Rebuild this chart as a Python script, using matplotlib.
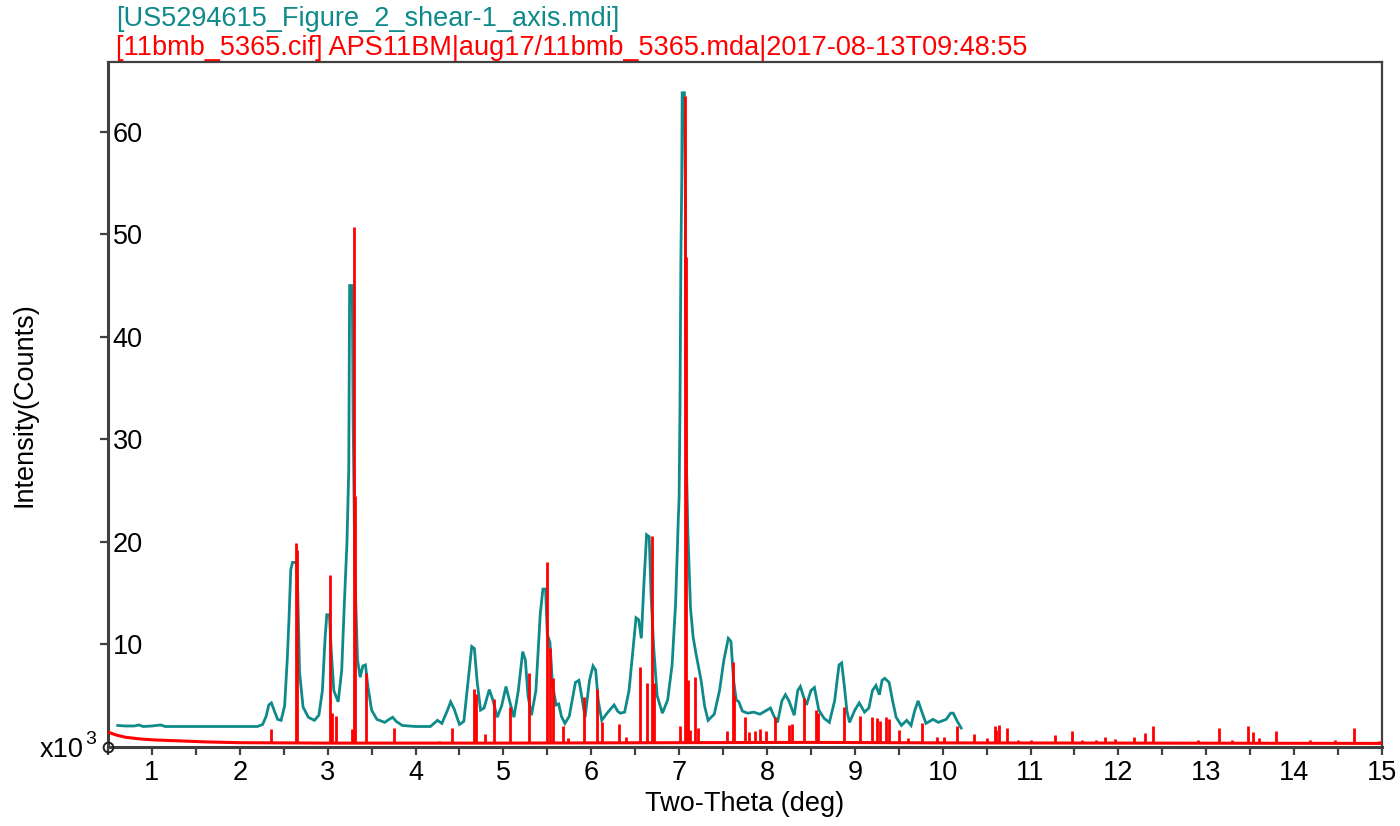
import numpy as np
import matplotlib
matplotlib.use("Agg")
import matplotlib.pyplot as plt

plt.rcParams['font.family'] = ['Liberation Sans', 'DejaVu Sans']

# ---------------- data ----------------
title1 = "[US5294615_Figure_2_shear-1_axis.mdi]"
title2 = "[11bmb_5365.cif] APS11BM|aug17/11bmb_5365.mda|2017-08-13T09:48:55"

# measured broad pattern (teal), x in deg, y in x10^3 counts
teal_x = [0.61, 0.70, 0.80, 0.85, 0.90, 1.00, 1.10, 1.15, 1.50, 2.00, 2.20, 2.26, 2.30, 2.33, 2.36,
          2.39, 2.43, 2.47, 2.51, 2.54, 2.56, 2.58, 2.60, 2.645, 2.66, 2.68, 2.72, 2.78, 2.85, 2.90,
          2.94, 2.97, 2.99, 3.02, 3.04, 3.07, 3.12, 3.16, 3.19, 3.22, 3.24, 3.25, 3.28, 3.29, 3.31,
          3.34, 3.37, 3.40, 3.43, 3.46, 3.50, 3.56, 3.65, 3.70, 3.74, 3.78, 3.85, 4.00, 4.17, 4.25,
          4.30, 4.36, 4.40, 4.44, 4.50, 4.55, 4.60, 4.64, 4.67, 4.70, 4.74, 4.78, 4.84, 4.88, 4.93,
          4.98, 5.03, 5.07, 5.12, 5.17, 5.22, 5.25, 5.28, 5.32, 5.37, 5.42, 5.45, 5.48, 5.50, 5.53,
          5.56, 5.60, 5.63, 5.66, 5.70, 5.75, 5.82, 5.86, 5.89, 5.93, 5.98, 6.02, 6.05, 6.08, 6.12,
          6.18, 6.26, 6.30, 6.33, 6.38, 6.43, 6.48, 6.51, 6.54, 6.57, 6.60, 6.63, 6.66, 6.68, 6.71,
          6.75, 6.81, 6.87, 6.92, 6.96, 6.99, 7.00, 7.01, 7.02, 7.03, 7.035, 7.06, 7.07, 7.08, 7.10,
          7.13, 7.16, 7.19, 7.25, 7.29, 7.33, 7.40, 7.46, 7.51, 7.56, 7.59, 7.62, 7.65, 7.68, 7.72,
          7.78, 7.85, 7.92, 7.98, 8.04, 8.08, 8.12, 8.17, 8.21, 8.25, 8.31, 8.35, 8.38, 8.42, 8.45,
          8.50, 8.54, 8.59, 8.65, 8.71, 8.77, 8.82, 8.85, 8.88, 8.91, 8.94, 9.00, 9.05, 9.11, 9.16,
          9.20, 9.24, 9.28, 9.31, 9.34, 9.39, 9.43, 9.47, 9.53, 9.59, 9.64, 9.68, 9.72, 9.76, 9.81,
          9.89, 9.95, 10.04, 10.09, 10.12, 10.16, 10.21]
teal_y = [2.10, 2.05, 2.05, 2.15, 2.00, 2.05, 2.15, 2.00, 2.00, 2.00, 2.00, 2.20, 3.00, 4.10, 4.30,
          3.60, 2.70, 2.60, 4.00, 8.50, 12.5, 17.3, 18.0, 18.0, 15.0, 7.30, 3.90, 2.90, 2.60, 3.10,
          5.50, 10.5, 12.9, 12.9, 9.50, 5.50, 4.40, 7.50, 14.0, 20.0, 27.0, 45.0, 45.0, 32.0, 17.0,
          8.50, 6.80, 7.90, 8.00, 5.80, 3.60, 2.70, 2.40, 2.70, 2.90, 2.50, 2.10, 2.00, 2.00, 2.60,
          2.30, 3.50, 4.40, 3.70, 2.20, 2.50, 6.50, 9.80, 9.60, 6.50, 3.60, 3.80, 5.60, 4.60, 2.90,
          4.00, 5.90, 4.50, 2.90, 5.50, 9.30, 8.50, 5.00, 3.10, 5.50, 13.0, 15.4, 15.4, 11.0, 10.2,
          6.00, 4.10, 4.20, 3.00, 2.30, 3.00, 6.30, 6.50, 5.00, 2.90, 6.50, 7.90, 7.50, 4.50, 2.60,
          3.30, 4.10, 3.50, 3.30, 3.40, 5.50, 10.0, 12.6, 12.4, 10.6, 16.0, 20.7, 20.5, 15.0, 9.80,
          5.00, 3.30, 4.60, 8.00, 14.0, 22.0, 24.3, 33.0, 47.3, 55.3, 63.8, 63.8, 55.0, 29.0, 20.9,
          13.5, 10.7, 9.20, 6.50, 4.00, 2.60, 3.20, 5.50, 8.50, 10.6, 10.3, 6.50, 4.60, 4.40, 3.50,
          3.30, 3.40, 3.20, 3.50, 3.80, 3.00, 2.40, 4.50, 5.10, 4.50, 3.10, 5.50, 5.90, 4.80, 4.10,
          5.50, 5.80, 3.60, 2.80, 2.40, 4.50, 8.00, 8.20, 6.00, 3.50, 2.40, 3.60, 4.30, 3.40, 3.80,
          5.50, 6.00, 5.10, 6.50, 6.70, 6.30, 4.50, 2.90, 2.10, 2.60, 2.10, 3.50, 4.50, 3.50, 2.30,
          2.70, 2.40, 2.70, 3.30, 3.30, 2.60, 1.85]

# calculated pattern (red): smooth background + sharp reflections
red_bg_x = [0.50, 0.60, 0.70, 0.85, 1.00, 1.30, 1.60, 2.00, 3.00, 5.00, 7.00, 8.50, 10.0, 12.0, 15.0]
red_bg_y = [1.45, 1.15, 0.95, 0.80, 0.70, 0.60, 0.50, 0.42, 0.38, 0.38, 0.42, 0.45, 0.40, 0.38, 0.35]

red_pk_x = [2.35, 2.64, 2.655, 3.03, 3.05, 3.09, 3.28, 3.295, 3.31, 3.44, 3.76, 4.27, 4.42, 4.66,
            4.69, 4.79, 4.89, 5.08, 5.29, 5.50, 5.53, 5.57, 5.68, 5.73, 5.92, 6.06, 6.12, 6.32,
            6.40, 6.56, 6.64, 6.69, 6.71, 7.01, 7.065, 7.075, 7.10, 7.12, 7.18, 7.21, 7.55, 7.61,
            7.63, 7.75, 7.80, 7.86, 7.92, 7.99, 8.09, 8.25, 8.29, 8.42, 8.56, 8.58, 8.88, 9.06,
            9.20, 9.25, 9.29, 9.36, 9.39, 9.50, 9.61, 9.77, 9.93, 10.02, 10.16, 10.36, 10.50,
            10.59, 10.61, 10.64, 10.73, 10.86, 11.01, 11.28, 11.47, 11.58, 11.75, 11.85, 11.96,
            12.18, 12.30, 12.39, 12.91, 13.14, 13.29, 13.48, 13.53, 13.60, 13.79, 14.18, 14.47,
            14.68, 14.97]
red_pk_y = [1.8, 19.9, 19.2, 16.8, 3.3, 3.0, 1.8, 50.7, 24.5, 7.2, 1.9, 0.6, 1.9, 5.7,
            5.2, 1.3, 4.7, 3.9, 7.2, 18.0, 9.7, 6.7, 2.0, 0.9, 4.9, 5.7, 2.4, 2.2,
            1.0, 7.8, 6.2, 20.6, 6.2, 2.0, 63.5, 47.8, 6.5, 1.7, 6.8, 1.9, 1.6, 8.3,
            5.0, 2.9, 1.5, 1.6, 1.8, 1.6, 2.9, 2.1, 2.2, 4.8, 3.6, 3.3, 3.9, 3.0,
            2.9, 2.8, 2.5, 2.9, 2.7, 1.7, 0.9, 2.3, 1.0, 1.0, 2.0, 1.3, 0.9,
            2.0, 1.7, 2.1, 1.9, 0.7, 0.7, 1.2, 1.6, 0.7, 0.7, 1.0, 0.8,
            1.0, 1.4, 2.0, 0.7, 1.9, 0.7, 2.0, 1.5, 0.9, 1.6, 0.7, 0.7,
            1.9, 0.6]

x_ticks = [1, 2, 3, 4, 5, 6, 7, 8, 9, 10, 11, 12, 13, 14, 15]
y_ticks = [10, 20, 30, 40, 50, 60]

# ---------------- figure ----------------
W, H = 1400, 826
fig = plt.figure(figsize=(W / 100, H / 100), dpi=100)
ax = fig.add_axes([108 / W, 1 - 747 / H, (1382 - 108) / W, (747 - 62) / H])

TEAL = "#0f8a8a"
RED = "#ff0000"
FS = 19.5

ax.plot(teal_x, teal_y, color=TEAL, lw=2.0, zorder=2, solid_joinstyle='miter')
ax.plot(red_bg_x, red_bg_y, color=RED, lw=2.2, zorder=3)
pk_base = np.interp(red_pk_x, red_bg_x, red_bg_y)
ax.vlines(red_pk_x, pk_base, red_pk_y, color=RED, lw=2.0, zorder=3)

ax.set_xlim(0.5, 15)
ax.set_ylim(0, 66.8)

ax.set_xticks(x_ticks)
ax.set_xticklabels([str(t) for t in x_ticks])
ax.set_xticks(np.arange(0.5, 15.01, 0.5), minor=True)
ax.set_yticks(y_ticks)
ax.set_yticklabels([str(t) for t in y_ticks])

for s in ['left', 'bottom']:
    ax.spines[s].set_color('#404040')
    ax.spines[s].set_linewidth(2.2)
for s in ['top', 'right']:
    ax.spines[s].set_color('#404040')
    ax.spines[s].set_linewidth(1.6)

ax.tick_params(axis='x', which='both', direction='out', length=6, width=1.6,
               color='#404040', labelsize=FS, pad=3, top=False)
ax.tick_params(axis='y', which='both', direction='out', length=6, width=1.6,
               color='#404040', labelsize=FS, pad=-31, right=False)

ax.set_xlabel("Two-Theta (deg)", fontsize=FS, labelpad=4)
ax.set_ylabel("Intensity(Counts)", fontsize=FS, labelpad=0)
ax.yaxis.set_label_coords(-(108 - 38) / (1382 - 108), 0.5)

# origin marker
ax.plot([0.5], [0], marker='o', ms=7, mfc='none', mec='#202020', mew=1.4, clip_on=False, zorder=5)

fig.text(84 / W, 1 - 757 / H, "x10", fontsize=FS, ha='right', va='baseline')
fig.text(85 / W, 1 - 744 / H, "3", fontsize=14, ha='left', va='baseline')

fig.text(116 / W, 1 - 26 / H, title1, fontsize=FS, color=TEAL, ha='left', va='baseline')
fig.text(116 / W, 1 - 55 / H, title2, fontsize=FS, color=RED, ha='left', va='baseline')

fig.savefig("out.png", dpi=100)
